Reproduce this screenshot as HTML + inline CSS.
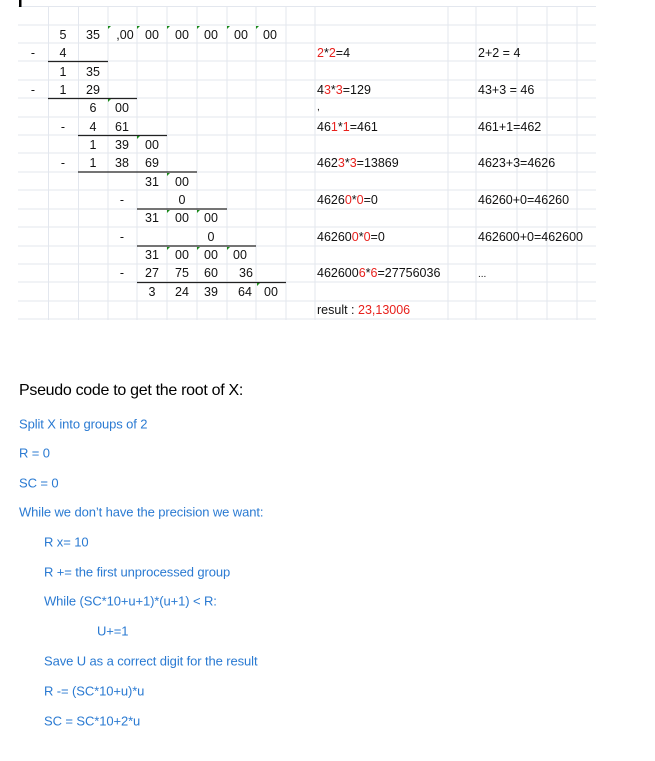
<!DOCTYPE html>
<html><head><meta charset="utf-8"><style>
body{margin:0;width:655px;height:761px;background:#fff;position:relative;overflow:hidden;font-family:"Liberation Sans",sans-serif;}
.t{position:absolute;font-size:12.5px;line-height:14px;color:#111;white-space:nowrap;transform:translate(-50%,-50%);}
.l{position:absolute;font-size:12.5px;line-height:14px;color:#111;white-space:nowrap;transform:translateY(-50%);}
.r{color:#e8211d}
.p{position:absolute;font-size:13px;color:#2a7ad2;white-space:nowrap;transform:translateY(-50%);letter-spacing:-0.1px}
</style></head><body>
<svg width="655" height="761" style="position:absolute;left:0;top:0">
<g stroke="#e3e7ee" stroke-width="1">
<line x1="18" y1="6.5" x2="596" y2="6.5"/><line x1="18" y1="25" x2="596" y2="25"/><line x1="18" y1="43" x2="596" y2="43"/><line x1="18" y1="61" x2="596" y2="61"/><line x1="18" y1="80" x2="596" y2="80"/><line x1="18" y1="98" x2="596" y2="98"/><line x1="18" y1="117" x2="596" y2="117"/><line x1="18" y1="135" x2="596" y2="135"/><line x1="18" y1="153" x2="596" y2="153"/><line x1="18" y1="172" x2="596" y2="172"/><line x1="18" y1="190" x2="596" y2="190"/><line x1="18" y1="209" x2="596" y2="209"/><line x1="18" y1="227" x2="596" y2="227"/><line x1="18" y1="246" x2="596" y2="246"/><line x1="18" y1="264" x2="596" y2="264"/><line x1="18" y1="282" x2="596" y2="282"/><line x1="18" y1="301" x2="596" y2="301"/><line x1="18" y1="319" x2="596" y2="319"/>
<line x1="48.5" y1="6" x2="48.5" y2="320"/><line x1="78.5" y1="6" x2="78.5" y2="320"/><line x1="108" y1="6" x2="108" y2="320"/><line x1="137" y1="6" x2="137" y2="320"/><line x1="167" y1="6" x2="167" y2="320"/><line x1="197" y1="6" x2="197" y2="320"/><line x1="227" y1="6" x2="227" y2="320"/><line x1="256" y1="6" x2="256" y2="320"/><line x1="286" y1="6" x2="286" y2="320"/><line x1="315" y1="6" x2="315" y2="320"/><line x1="448" y1="6" x2="448" y2="320"/><line x1="476" y1="6" x2="476" y2="320"/><line x1="517" y1="6" x2="517" y2="320"/><line x1="547" y1="6" x2="547" y2="320"/><line x1="577" y1="6" x2="577" y2="320"/>
</g>
<g stroke="#222" stroke-width="1.2">
<line x1="48" y1="61.5" x2="108" y2="61.5"/><line x1="48" y1="98.5" x2="137" y2="98.5"/><line x1="78" y1="135.5" x2="167" y2="135.5"/><line x1="78" y1="172" x2="197" y2="172"/><line x1="137" y1="209" x2="227" y2="209"/><line x1="137" y1="246" x2="256" y2="246"/><line x1="137" y1="282.5" x2="286" y2="282.5"/>
</g>
<rect x="19" y="0" width="2.5" height="7" fill="#000"/>
<g fill="#1a8a1a">
<polygon points="108,26 111,26 108,29"/><polygon points="137,26 140,26 137,29"/><polygon points="167,26 170,26 167,29"/><polygon points="197,26 200,26 197,29"/><polygon points="227,26 230,26 227,29"/><polygon points="256,26 259,26 256,29"/>
<polygon points="108,99 111,99 108,102"/><polygon points="137,136 140,136 137,139"/><polygon points="167,173 170,173 167,176"/>
<polygon points="167,210 170,210 167,213"/><polygon points="197,210 200,210 197,213"/>
<polygon points="167,247 170,247 167,250"/><polygon points="197,247 200,247 197,250"/><polygon points="227,247 230,247 227,250"/>
<polygon points="257,283 260,283 257,286"/>
</g>
</svg>
<div class="t" style="left:63px;top:35px">5</div><div class="t" style="left:93px;top:35px">35</div><div class="t" style="left:125px;top:35px">,00</div><div class="t" style="left:152px;top:35px">00</div><div class="t" style="left:182px;top:35px">00</div><div class="t" style="left:211px;top:35px">00</div><div class="t" style="left:241px;top:35px">00</div><div class="t" style="left:270px;top:35px">00</div>
<div class="t" style="left:33px;top:53px">-</div><div class="t" style="left:63px;top:53px">4</div>
<div class="t" style="left:63px;top:72px">1</div><div class="t" style="left:93px;top:72px">35</div>
<div class="t" style="left:33px;top:90px">-</div><div class="t" style="left:63px;top:90px">1</div><div class="t" style="left:93px;top:90px">29</div>
<div class="t" style="left:93px;top:108px">6</div><div class="t" style="left:122px;top:108px">00</div>
<div class="t" style="left:63px;top:127px">-</div><div class="t" style="left:93px;top:127px">4</div><div class="t" style="left:122px;top:127px">61</div>
<div class="t" style="left:93px;top:145px">1</div><div class="t" style="left:122px;top:145px">39</div><div class="t" style="left:152px;top:145px">00</div>
<div class="t" style="left:63px;top:163px">-</div><div class="t" style="left:93px;top:163px">1</div><div class="t" style="left:122px;top:163px">38</div><div class="t" style="left:152px;top:163px">69</div>
<div class="t" style="left:152px;top:182px">31</div><div class="t" style="left:182px;top:182px">00</div>
<div class="t" style="left:122px;top:200px">-</div><div class="t" style="left:182px;top:200px">0</div>
<div class="t" style="left:152px;top:218px">31</div><div class="t" style="left:182px;top:218px">00</div><div class="t" style="left:211px;top:218px">00</div>
<div class="t" style="left:122px;top:237px">-</div><div class="t" style="left:211px;top:237px">0</div>
<div class="t" style="left:152px;top:255px">31</div><div class="t" style="left:182px;top:255px">00</div><div class="t" style="left:211px;top:255px">00</div><div class="t" style="left:240px;top:255px">00</div>
<div class="t" style="left:122px;top:273px">-</div><div class="t" style="left:152px;top:273px">27</div><div class="t" style="left:182px;top:273px">75</div><div class="t" style="left:211px;top:273px">60</div><div class="t" style="left:246px;top:273px">36</div>
<div class="t" style="left:152px;top:292px">3</div><div class="t" style="left:182px;top:292px">24</div><div class="t" style="left:211px;top:292px">39</div><div class="t" style="left:245px;top:292px">64</div><div class="t" style="left:271px;top:292px">00</div>

<div class="l" style="left:317px;top:53px"><span class="r">2</span>*<span class="r">2</span>=4</div>
<div class="l" style="left:478px;top:53px">2+2 = 4</div>
<div class="l" style="left:317px;top:90px">4<span class="r">3</span>*<span class="r">3</span>=129</div>
<div class="l" style="left:478px;top:90px">43+3 = 46</div>
<div class="l" style="left:317px;top:108px;font-size:10px">,</div>
<div class="l" style="left:317px;top:127px">46<span class="r">1</span>*<span class="r">1</span>=461</div>
<div class="l" style="left:478px;top:127px">461+1=462</div>
<div class="l" style="left:317px;top:163px">462<span class="r">3</span>*<span class="r">3</span>=13869</div>
<div class="l" style="left:478px;top:163px">4623+3=4626</div>
<div class="l" style="left:317px;top:200px">4626<span class="r">0</span>*<span class="r">0</span>=0</div>
<div class="l" style="left:478px;top:200px">46260+0=46260</div>
<div class="l" style="left:317px;top:237px">46260<span class="r">0</span>*<span class="r">0</span>=0</div>
<div class="l" style="left:478px;top:237px">462600+0=462600</div>
<div class="l" style="left:317px;top:273px">462600<span class="r">6</span>*<span class="r">6</span>=27756036</div>
<div class="l" style="left:478px;top:275px;font-size:10px">...</div>
<div class="l" style="left:317px;top:310px">result : <span class="r">23,13006</span></div>

<div class="l" style="left:19px;top:391px;font-size:16px;color:#000;letter-spacing:-0.3px">Pseudo code to get the root of X:</div>
<div class="p" style="left:19px;top:424px">Split X into groups of 2</div>
<div class="p" style="left:19px;top:453px">R = 0</div>
<div class="p" style="left:19px;top:483px">SC = 0</div>
<div class="p" style="left:19px;top:512px">While we don’t have the precision we want:</div>
<div class="p" style="left:44px;top:542px">R x= 10</div>
<div class="p" style="left:44px;top:572px">R += the first unprocessed group</div>
<div class="p" style="left:44px;top:601px">While (SC*10+u+1)*(u+1) &lt; R:</div>
<div class="p" style="left:97px;top:631px">U+=1</div>
<div class="p" style="left:44px;top:661px">Save U as a correct digit for the result</div>
<div class="p" style="left:44px;top:691px">R -= (SC*10+u)*u</div>
<div class="p" style="left:44px;top:721px">SC = SC*10+2*u</div>
</body></html>
